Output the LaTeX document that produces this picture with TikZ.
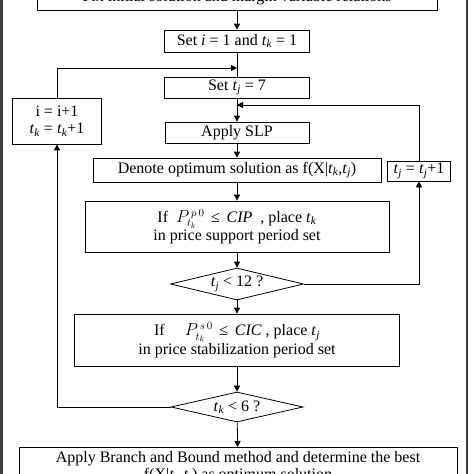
\documentclass[tikz,border=0pt]{standalone}
\usepackage{fontspec}
\setmainfont{Liberation Serif}
\usetikzlibrary{shapes.geometric,arrows.meta}
\newcommand{\tsub}[1]{\textit{t}\textsubscript{\textit{#1}}}

\begin{document}
\begin{tikzpicture}[x=1pt,y=-1pt,font=\fontsize{16}{17}\selectfont,line width=0.8pt,
  box/.style={draw,inner sep=0pt,align=center},
  dec/.style={draw,diamond,inner sep=0pt,aspect=4,minimum width=133pt,minimum height=32pt},
  arr/.style={-{Triangle[length=6pt,width=6pt]}}]
\useasboundingbox (0,0) rectangle (474,474);

\draw[line width=3pt,black!75] (1.5,0) -- (1.5,474);
\draw[line width=1.2pt,black!75] (467,0) -- (467,474);

\node[box,anchor=south,minimum width=400pt,inner ysep=6pt] (init) at (237,11) {Fix initial solution and margin variable relations};
\node[box,minimum width=145pt,minimum height=22pt] (seti) at (237,41) {Set \textit{i} = 1 and \tsub{k} = 1};
\node[box,minimum width=145pt,minimum height=21pt] (settj) at (237,87.5) {Set \tsub{j} = 7};
\node[box,minimum width=144pt,minimum height=21pt] (slp) at (237,132.5) {Apply SLP};
\node[box,minimum width=288pt,minimum height=24pt] (denote) at (237,170) {Denote optimum solution as f(X|\tsub{k},\tsub{j})};
\node[box,minimum width=304pt,minimum height=51pt] (ifp) at (237,226.5) {If \ $P_{t_k}^{\,p\,0}$ \,≤\, \textit{CIP} \ , place \tsub{k}\\ in price support period set};
\node[dec] (dj) at (237,284) {\tsub{j} < 12 ?};
\node[box,minimum width=325pt,minimum height=52pt] (ifs) at (237,340) {If \quad $P_{t_k}^{\,s\,0}$ \,≤\, \textit{CIC} , place \tsub{j}\\ in price stabilization period set};
\node[dec,minimum width=132pt,minimum height=30pt] (dk) at (237,407) {\tsub{k} < 6 ?};
\node[box,anchor=north,minimum width=438pt,inner ysep=4pt] (final) at (238,447) {Apply Branch and Bound method and determine the best\\ f(X|\tsub{k},\tsub{j}) as optimum solution};
\node[box,minimum width=89pt,minimum height=46pt] (inc) at (57,121) {i = i+1\\ \tsub{k} = \tsub{k}+1};
\node[box,minimum width=63pt,minimum height=20pt] (tjinc) at (419,171) {\tsub{j} = \tsub{j}+1};

\coordinate (jleft) at (237,68);
\coordinate (jright) at (237,105);

\draw[arr] (init) -- (seti);
\draw (seti) -- (settj);
\draw[arr] (settj) -- (slp);
\draw[arr] (slp) -- (denote);
\draw[arr] (denote) -- (ifp);
\draw[arr] (ifp) -- (dj);
\draw[arr] (dj) -- (ifs);
\draw[arr] (ifs) -- (dk);
\draw[arr] (dk) -- (final);
\draw[arr] (dk.west) -| (inc);
\draw[arr] (inc) |- (jleft);
\draw[arr] (dj.east) -| (tjinc);
\draw[arr] (tjinc) |- (jright);

\end{tikzpicture}
\end{document}
